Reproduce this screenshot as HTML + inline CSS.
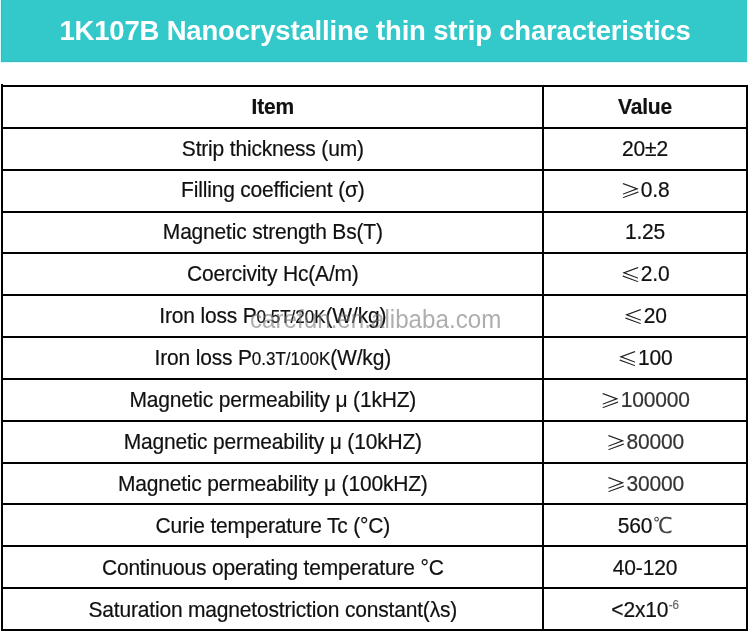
<!DOCTYPE html>
<html><head><meta charset="utf-8"><style>
*{margin:0;padding:0;box-sizing:border-box}
html,body{width:750px;height:634px;background:#fff;overflow:hidden}
body{position:relative;font-family:"Liberation Sans",Arial,sans-serif;color:#111}
.banner{position:absolute;left:1px;top:0;width:746px;height:62px;background:#33c9ca;box-shadow:0 0 0 1px #dafcfc,inset 1px -1px 0 #3cb9ba}
.title{position:absolute;left:0;top:0;width:750px;height:62px;line-height:62px;text-align:center;color:#fff;font-weight:bold;font-size:27.5px;letter-spacing:-0.19px;white-space:nowrap}
.h{position:absolute;background:#000;height:2px;left:1px;width:747px}
.v{position:absolute;background:#000;width:2px}
.c{position:absolute;height:21px;line-height:21px;font-size:21px;letter-spacing:-0.18px;white-space:nowrap;text-align:center;-webkit-text-stroke:0.2px currentColor}
.c>span.t{display:inline-block;transform:scaleY(1.04)}
.l{left:3.3px;width:539px}
.r{left:544px;width:202px}
.b{font-weight:bold}
.sym,.cel,.sb,.sp{line-height:0}
.g{color:#333}
.sym{font-family:"Noto Serif CJK SC",serif;color:#000;margin-right:0.5px;font-size:20px;display:inline-block;transform:translateY(1.2px) scaleY(0.89)}
.cel{font-family:"WenQuanYi Zen Hei",sans-serif;color:#444;margin-left:1px;-webkit-text-stroke:0}
.sb{font-size:17px;letter-spacing:0}
.sp{font-size:11.5px;position:relative;top:-8px;color:#666;margin-left:0.5px}
.wm{position:absolute;left:250px;top:305.5px;font-size:26px;color:rgba(120,120,120,0.6);white-space:nowrap;line-height:1;transform:scaleX(0.93);transform-origin:0 0}
</style></head><body>
<div class="banner"></div>
<div class="title">1K107B Nanocrystalline thin strip characteristics</div>
<div class="h" style="top:85px"></div>
<div class="h" style="top:127px"></div>
<div class="h" style="top:169px"></div>
<div class="h" style="top:211px"></div>
<div class="h" style="top:252px"></div>
<div class="h" style="top:294px"></div>
<div class="h" style="top:336px"></div>
<div class="h" style="top:378px"></div>
<div class="h" style="top:420px"></div>
<div class="h" style="top:462px"></div>
<div class="h" style="top:503px"></div>
<div class="h" style="top:545px"></div>
<div class="h" style="top:587px"></div>
<div class="h" style="top:629px"></div>
<div class="v" style="left:1px;top:84px;height:547px"></div>
<div class="v" style="left:746px;top:85px;height:546px"></div>
<div class="v" style="left:542px;top:85px;height:546px"></div>
<div class="c l b" style="top:95.94px"><span class="t">Item</span></div>
<div class="c r b" style="top:95.94px"><span class="t">Value</span></div>
<div class="c l" style="top:137.54px"><span class="t">Strip thickness (um)</span></div>
<div class="c r " style="top:137.54px"><span class="t">20±2</span></div>
<div class="c l" style="top:179.47px"><span class="t">Filling coefficient (σ)</span></div>
<div class="c r " style="top:179.47px"><span class="t"><span class="sym">≥</span>0.8</span></div>
<div class="c l" style="top:221.4px"><span class="t">Magnetic strength Bs(T)</span></div>
<div class="c r " style="top:221.4px"><span class="t">1.25</span></div>
<div class="c l" style="top:263.33px"><span class="t">Coercivity Hc(A/m)</span></div>
<div class="c r " style="top:263.33px"><span class="t"><span class="sym">≤</span>2.0</span></div>
<div class="c l" style="top:305.26px"><span class="t">Iron loss P<span class="sb">0.5T/20K</span>(W/kg)</span></div>
<div class="c r " style="top:305.26px"><span class="t"><span class="sym">≤</span>20</span></div>
<div class="c l" style="top:347.19px"><span class="t">Iron loss P<span class="sb">0.3T/100K</span>(W/kg)</span></div>
<div class="c r " style="top:347.19px"><span class="t"><span class="sym">≤</span>100</span></div>
<div class="c l" style="top:389.12px"><span class="t">Magnetic permeability μ (1kHZ)</span></div>
<div class="c r g" style="top:389.12px"><span class="t"><span class="sym">≥</span>100000</span></div>
<div class="c l" style="top:431.05px"><span class="t">Magnetic permeability μ (10kHZ)</span></div>
<div class="c r g" style="top:431.05px"><span class="t"><span class="sym">≥</span>80000</span></div>
<div class="c l" style="top:472.98px"><span class="t">Magnetic permeability μ (100kHZ)</span></div>
<div class="c r g" style="top:472.98px"><span class="t"><span class="sym">≥</span>30000</span></div>
<div class="c l" style="top:514.91px"><span class="t">Curie temperature Tc (°C)</span></div>
<div class="c r " style="top:514.91px"><span class="t">560<span class="cel">℃</span></span></div>
<div class="c l" style="top:556.84px"><span class="t">Continuous operating temperature °C</span></div>
<div class="c r " style="top:556.84px"><span class="t">40-120</span></div>
<div class="c l" style="top:598.77px"><span class="t">Saturation magnetostriction constant(λs)</span></div>
<div class="c r " style="top:598.77px"><span class="t">&lt;2x10<span class="sp">-6</span></span></div>
<div class="wm">carefun.en.alibaba.com</div>
</body></html>
